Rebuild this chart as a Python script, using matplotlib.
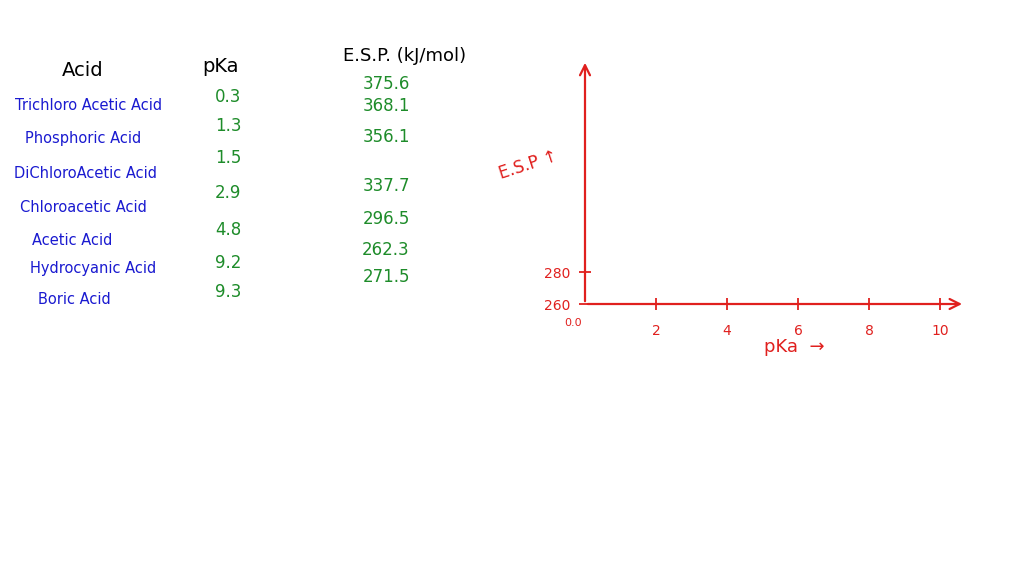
import matplotlib
matplotlib.use("Agg")
import matplotlib.pyplot as plt

acids = ["Trichloro Acetic Acid", "Phosphoric Acid", "DiChloroAcetic Acid",
         "Chloroacetic Acid", "Acetic Acid", "Hydrocyanic Acid", "Boric Acid"]
pka = ["0.3", "1.3", "1.5", "2.9", "4.8", "9.2", "9.3"]
esp = ["375.6", "368.1", "356.1", "337.7", "296.5", "262.3", "271.5"]
headers = ["Acid", "pKa", "E.S.P. (kJ/mol)"]
xticks = [2, 4, 6, 8, 10]
xticklabels = ["2", "4", "6", "8", "10"]
yticks = [260, 280]
yticklabels = ["260", "280"]

W, H = 1024, 576
RED = "#e0201e"
BLUE = "#1a1ad0"
GREEN = "#1e8c2a"

fig = plt.figure(figsize=(W / 100, H / 100), dpi=100)
fig.patch.set_facecolor("white")

def fx(px):
    return px / W

def fy(py):
    return 1 - py / H

# headers
fig.text(fx(83), fy(70), headers[0], color="black", fontsize=14, ha="center", va="center")
fig.text(fx(220), fy(66), headers[1], color="black", fontsize=14, ha="center", va="center")
fig.text(fx(405), fy(56), headers[2], color="black", fontsize=13, ha="center", va="center")

acid_pos = [(15, 105), (25, 138), (14, 174), (20, 208), (32, 240), (30, 269), (38, 300)]
pka_y = [97, 126, 158, 193, 230, 263, 292]
esp_y = [84, 106, 137, 186, 219, 250, 277]

for name, (x, y) in zip(acids, acid_pos):
    fig.text(fx(x), fy(y), name, color=BLUE, fontsize=10.5, ha="left", va="center")
for v, y in zip(pka, pka_y):
    fig.text(fx(228), fy(y), v, color=GREEN, fontsize=12, ha="center", va="center")
for v, y in zip(esp, esp_y):
    fig.text(fx(386), fy(y), v, color=GREEN, fontsize=12, ha="center", va="center")

# ---- axes (empty sketch plot) ----
x0_px, y0_px = 585, 304
px_per_x = 35.5
px_per_y = 32 / 20
xmax = 10.7
ymin = 260
ytop_px = 60
ymax = ymin + (y0_px - ytop_px) / px_per_y

ax = fig.add_axes([fx(x0_px), fy(y0_px), xmax * px_per_x / W, (y0_px - ytop_px) / H])
ax.set_xlim(0, xmax)
ax.set_ylim(ymin, ymax)
ax.set_facecolor("none")
for s in ax.spines.values():
    s.set_visible(False)

ax.annotate("", xy=(1.0, 0), xytext=(0, 0), xycoords="axes fraction",
            arrowprops=dict(arrowstyle="->", color=RED, lw=1.6, mutation_scale=18))
ax.annotate("", xy=(0, 1.0), xytext=(0, 0), xycoords="axes fraction",
            arrowprops=dict(arrowstyle="->", color=RED, lw=1.6, mutation_scale=18))

ax.set_xticks(xticks)
ax.set_xticklabels(xticklabels)
ax.set_yticks(yticks)
ax.set_yticklabels(yticklabels)
ax.tick_params(axis="both", colors=RED, direction="inout", length=9, width=1.3,
               labelsize=10)
ax.tick_params(axis="x", pad=10)
ax.tick_params(axis="y", pad=6)

ax.text(-0.35, ymin - 12, "0.0", color=RED, fontsize=8, ha="center", va="center",
        clip_on=False)
ax.text(-1.6, ymin + 87, "E.S.P ↑", color=RED, fontsize=12, ha="center", va="center",
        rotation=18, clip_on=False)
ax.text(5.9, ymin - 27, "pKa  →", color=RED, fontsize=13, ha="center", va="center",
        clip_on=False)

fig.savefig("out.png", dpi=100, facecolor="white")
